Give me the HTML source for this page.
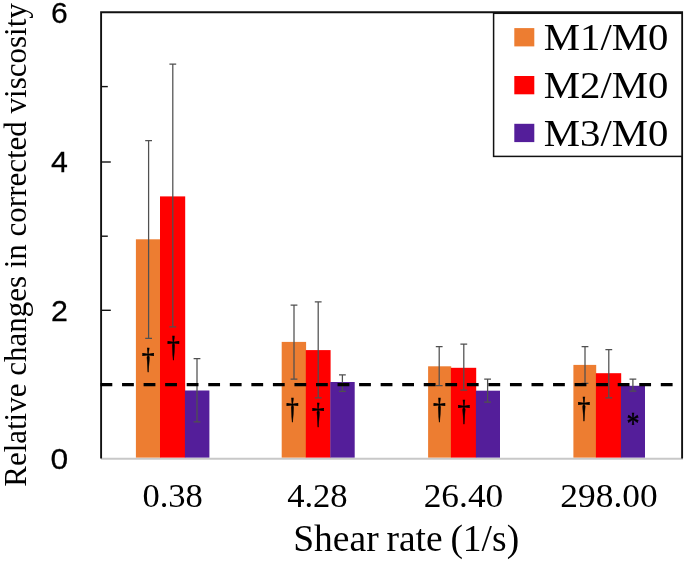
<!DOCTYPE html>
<html><head><meta charset="utf-8"><title>Shear rate chart</title>
<style>
html,body{margin:0;padding:0;background:#fff;}
body{width:685px;height:561px;overflow:hidden;}
svg{display:block;}
text{fill:#000;}
.serif{font-family:"Liberation Serif","Times New Roman",serif;}
.sans{font-family:"Liberation Sans","DejaVu Sans",sans-serif;}
</style></head><body>
<svg width="685" height="561" viewBox="0 0 685 561">
<rect width="685" height="561" fill="#fff"/>
<line x1="101" y1="458.7" x2="683" y2="458.7" stroke="#c8c8c8" stroke-width="1.9"/>
<rect x="135.9" y="239.3" width="24.4" height="218.3" fill="#ED7D31"/>
<rect x="160.0" y="196.4" width="25.2" height="261.2" fill="#FF0000"/>
<rect x="184.9" y="390.5" width="24.5" height="67.1" fill="#541E9A"/>
<rect x="281.7" y="341.9" width="24.4" height="115.7" fill="#ED7D31"/>
<rect x="305.8" y="350.1" width="24.8" height="107.5" fill="#FF0000"/>
<rect x="330.3" y="382.0" width="24.4" height="75.6" fill="#541E9A"/>
<rect x="428.1" y="366.3" width="23.1" height="91.3" fill="#ED7D31"/>
<rect x="450.9" y="367.8" width="25.3" height="89.8" fill="#FF0000"/>
<rect x="475.9" y="390.7" width="24.1" height="66.9" fill="#541E9A"/>
<rect x="573.4" y="364.9" width="22.8" height="92.7" fill="#ED7D31"/>
<rect x="595.9" y="373.2" width="25.3" height="84.4" fill="#FF0000"/>
<rect x="620.9" y="385.8" width="24.1" height="71.8" fill="#541E9A"/>
<path d="M148.6 140.6V338.4M145.2 140.6h6.8M145.2 338.4h6.8" stroke="#505050" stroke-width="1.25" fill="none"/>
<path d="M172.8 64.2V326.8M169.4 64.2h6.8M169.4 326.8h6.8" stroke="#505050" stroke-width="1.25" fill="none"/>
<path d="M197.0 358.7V421.9M193.6 358.7h6.8M193.6 421.9h6.8" stroke="#505050" stroke-width="1.25" fill="none"/>
<path d="M294.0 305.0V379.0M290.6 305.0h6.8M290.6 379.0h6.8" stroke="#505050" stroke-width="1.25" fill="none"/>
<path d="M318.2 301.9V397.9M314.8 301.9h6.8M314.8 397.9h6.8" stroke="#505050" stroke-width="1.25" fill="none"/>
<path d="M342.4 374.9V391.3M339.0 374.9h6.8M339.0 391.3h6.8" stroke="#505050" stroke-width="1.25" fill="none"/>
<path d="M439.2 346.6V385.6M435.8 346.6h6.8M435.8 385.6h6.8" stroke="#505050" stroke-width="1.25" fill="none"/>
<path d="M463.8 344.2V390.1M460.4 344.2h6.8M460.4 390.1h6.8" stroke="#505050" stroke-width="1.25" fill="none"/>
<path d="M487.6 379.0V402.0M484.2 379.0h6.8M484.2 402.0h6.8" stroke="#505050" stroke-width="1.25" fill="none"/>
<path d="M585.0 346.7V383.4M581.6 346.7h6.8M581.6 383.4h6.8" stroke="#505050" stroke-width="1.25" fill="none"/>
<path d="M608.8 349.6V397.8M605.4 349.6h6.8M605.4 397.8h6.8" stroke="#505050" stroke-width="1.25" fill="none"/>
<path d="M632.9 379.0V391.0M629.5 379.0h6.8M629.5 391.0h6.8" stroke="#505050" stroke-width="1.25" fill="none"/>
<path d="M101.1 458.6V12.2H682.1V458.6" fill="none" stroke="#111" stroke-width="1.9" stroke-linejoin="miter"/>
<line x1="101" y1="86.6" x2="107.8" y2="86.6" stroke="#111" stroke-width="1.4"/>
<line x1="101" y1="162.0" x2="110.8" y2="162.0" stroke="#111" stroke-width="1.4"/>
<line x1="101" y1="236.2" x2="107.8" y2="236.2" stroke="#111" stroke-width="1.4"/>
<line x1="101" y1="310.3" x2="110.8" y2="310.3" stroke="#111" stroke-width="1.4"/>
<line x1="101" y1="384.5" x2="107.8" y2="384.5" stroke="#111" stroke-width="1.4"/>
<line x1="100.5" y1="384.6" x2="676" y2="384.6" stroke="#000" stroke-width="3.3" stroke-dasharray="11.8 9.75"/>
<text class="serif" transform="translate(148.1 367.8) scale(0.95 1.13)" font-size="27" text-anchor="middle" stroke="#000" stroke-width="0.45">†</text>
<text class="serif" transform="translate(173.4 355.5) scale(0.95 1.13)" font-size="27" text-anchor="middle" stroke="#000" stroke-width="0.45">†</text>
<text class="serif" transform="translate(292.5 417.9) scale(0.95 1.13)" font-size="27" text-anchor="middle" stroke="#000" stroke-width="0.45">†</text>
<text class="serif" transform="translate(318.2 422.9) scale(0.95 1.13)" font-size="27" text-anchor="middle" stroke="#000" stroke-width="0.45">†</text>
<text class="serif" transform="translate(439.3 418.3) scale(0.95 1.13)" font-size="27" text-anchor="middle" stroke="#000" stroke-width="0.45">†</text>
<text class="serif" transform="translate(463.9 419.9) scale(0.95 1.13)" font-size="27" text-anchor="middle" stroke="#000" stroke-width="0.45">†</text>
<text class="serif" transform="translate(584.0 416.6) scale(0.95 1.13)" font-size="27" text-anchor="middle" stroke="#000" stroke-width="0.45">†</text>
<text class="serif" transform="translate(633.1 434.4) scale(1 1.2)" font-size="26" text-anchor="middle" stroke="#000" stroke-width="0.4">*</text>
<rect x="493.6" y="13.3" width="188.4" height="143.1" fill="#fff" stroke="#111" stroke-width="1.5"/>
<rect x="514.3" y="28.1" width="20" height="18.3" fill="#ED7D31"/>
<text class="serif" x="543.8" y="49.7" font-size="38" textLength="124.6" lengthAdjust="spacingAndGlyphs">M1/M0</text>
<rect x="514.3" y="76.0" width="20" height="18.3" fill="#FF0000"/>
<text class="serif" x="543.8" y="97.7" font-size="38" textLength="124.6" lengthAdjust="spacingAndGlyphs">M2/M0</text>
<rect x="514.3" y="123.8" width="20" height="18.3" fill="#541E9A"/>
<text class="serif" x="543.8" y="145.6" font-size="38" textLength="124.6" lengthAdjust="spacingAndGlyphs">M3/M0</text>
<text class="sans" transform="translate(59.4 468.70) scale(1.09 1)" font-size="29.2" text-anchor="middle" stroke="#000" stroke-width="0.25">0</text>
<text class="sans" transform="translate(59.4 320.75) scale(1.04 1)" font-size="29.2" text-anchor="middle" stroke="#000" stroke-width="0.25">2</text>
<text class="sans" transform="translate(59.4 172.40) scale(1.04 1)" font-size="29.2" text-anchor="middle" stroke="#000" stroke-width="0.25">4</text>
<text class="sans" transform="translate(59.4 23.00) scale(1.03 1)" font-size="29.2" text-anchor="middle" stroke="#000" stroke-width="0.25">6</text>
<text class="serif" transform="translate(172.65 506.7) scale(1.046 1)" font-size="33" text-anchor="middle">0.38</text>
<text class="serif" transform="translate(317.40 506.7) scale(1.048 1)" font-size="33" text-anchor="middle">4.28</text>
<text class="serif" transform="translate(463.50 506.7) scale(1.073 1)" font-size="33" text-anchor="middle">26.40</text>
<text class="serif" transform="translate(608.95 506.7) scale(1.073 1)" font-size="33" text-anchor="middle">298.00</text>
<text class="serif" x="406.2" y="551.2" font-size="37.5" word-spacing="-1.6" text-anchor="middle">Shear rate (1/s)</text>
<text class="serif" transform="translate(26.4 245) rotate(-90) scale(1 1.02)" font-size="31" text-anchor="middle">Relative changes in corrected viscosity</text>
</svg>
</body></html>
